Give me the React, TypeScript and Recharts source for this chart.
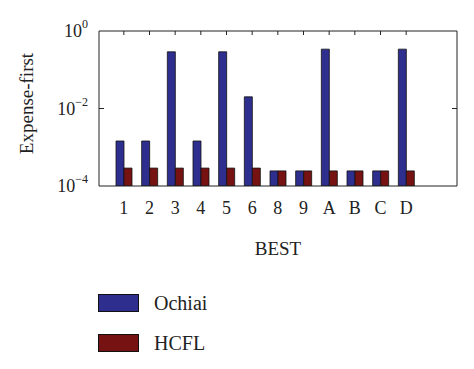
import React from "react";
import { BarChart, Bar, XAxis, YAxis, Label } from "recharts";

const categories = ["1", "2", "3", "4", "5", "6", "8", "9", "A", "B", "C", "D"];
const ochiai = [
  1.45e-3, 1.45e-3, 0.29, 1.45e-3, 0.29, 0.02, 2.45e-4, 2.45e-4, 0.34, 2.45e-4,
  2.45e-4, 0.34,
];
const hcfl = [
  2.9e-4, 2.9e-4, 2.9e-4, 2.9e-4, 2.9e-4, 2.9e-4, 2.45e-4, 2.45e-4, 2.45e-4,
  2.45e-4, 2.45e-4, 2.45e-4,
];
const yTicks = [1e-4, 1e-2, 1];

const series = [
  { key: "ochiai", name: "Ochiai", color: "#2e2e8e" },
  { key: "hcfl", name: "HCFL", color: "#761212" },
];

const data = categories.map((c, i) => ({
  cat: c,
  ochiai: ochiai[i],
  hcfl: hcfl[i],
}));

const FONT = "'Liberation Serif', 'Times New Roman', serif";
const INK = "#222";
const pad = { left: 12, right: 38 };

const LeftTick = ({ x, y, payload }: any) => {
  const exp = Math.round(Math.log10(payload.value));
  const inner = payload.value > 1e-4 && payload.value < 1;
  return (
    <g>
      {inner && <line x1={x} x2={x + 5} y1={y} y2={y} stroke={INK} />}
      <text
        x={x - 11}
        y={y + 6}
        textAnchor="end"
        fontFamily={FONT}
        fontSize={18}
        fill={INK}
      >
        10
        <tspan dy={-9} fontSize={12}>
          {exp === 0 ? "0" : "\u2212" + Math.abs(exp)}
        </tspan>
      </text>
    </g>
  );
};

const RightTick = ({ x, y, payload }: any) => {
  const inner = payload.value > 1e-4 && payload.value < 1;
  if (!inner) return <g />;
  return <line x1={x - 5} x2={x} y1={y} y2={y} stroke={INK} />;
};

const TopTick = ({ x, y }: any) => (
  <line x1={x} x2={x} y1={y} y2={y + 4} stroke={INK} />
);

const BottomTick = ({ x, y, payload }: any) => (
  <text
    x={x}
    y={y + 28}
    textAnchor="middle"
    fontFamily={FONT}
    fontSize={18}
    fill={INK}
  >
    {payload.value}
  </text>
);

const App = () => {
  return (
    <div
      style={{
        position: "absolute",
        left: 0,
        top: 0,
        width: 474,
        height: 369,
        background: "#fff",
      }}
    >
      <BarChart
        width={474}
        height={260}
        data={data}
        margin={{ top: 0, right: 0, bottom: 0, left: 0 }}
        barSize={8}
        barGap={0}
      >
        <XAxis
          dataKey="cat"
          height={74}
          padding={pad}
          axisLine={{ stroke: INK }}
          tickLine={false}
          tickSize={0}
          tickMargin={0}
          tick={<BottomTick />}
          interval={0}
        >
          <Label
            content={({ viewBox }: any) => (
              <text
                x={viewBox.x + viewBox.width / 2}
                y={viewBox.y + 69}
                textAnchor="middle"
                fontFamily={FONT}
                fontSize={19}
                fill={INK}
              >
                BEST
              </text>
            )}
          />
        </XAxis>
        <XAxis
          xAxisId="top"
          dataKey="cat"
          orientation="top"
          height={31}
          padding={pad}
          axisLine={{ stroke: INK }}
          tickLine={false}
          tickSize={0}
          tickMargin={0}
          tick={<TopTick />}
          interval={0}
        />
        <YAxis
          scale="log"
          domain={[1e-4, 1]}
          ticks={yTicks}
          allowDataOverflow
          width={99}
          axisLine={{ stroke: INK }}
          tickLine={false}
          tickSize={0}
          tickMargin={0}
          tick={<LeftTick />}
          interval={0}
        >
          <Label
            content={({ viewBox }: any) => (
              <text
                x={viewBox.x + 26}
                y={viewBox.y + viewBox.height / 2 - 5}
                transform={`rotate(-90, ${viewBox.x + 26}, ${
                  viewBox.y + viewBox.height / 2 - 5
                })`}
                textAnchor="middle"
                dominantBaseline="central"
                fontFamily={FONT}
                fontSize={19}
                fill={INK}
              >
                Expense-first
              </text>
            )}
          />
        </YAxis>
        <YAxis
          yAxisId="right"
          orientation="right"
          scale="log"
          domain={[1e-4, 1]}
          ticks={yTicks}
          allowDataOverflow
          width={17}
          axisLine={{ stroke: INK }}
          tickLine={false}
          tickSize={0}
          tickMargin={0}
          tick={<RightTick />}
          interval={0}
        />
        {series.map((s) => (
          <Bar
            key={s.key}
            dataKey={s.key}
            name={s.name}
            fill={s.color}
            stroke="#111"
            strokeWidth={0.8}
            isAnimationActive={false}
          />
        ))}
      </BarChart>
      {series.map((s, i) => (
        <div
          key={s.key}
          style={{
            position: "absolute",
            left: 98,
            top: 294 + i * 40,
            display: "flex",
            alignItems: "center",
            fontFamily: FONT,
            fontSize: 20,
            color: INK,
            height: 18,
          }}
        >
          <span
            style={{
              display: "inline-block",
              width: 39,
              height: 16,
              background: s.color,
              border: "1px solid #111",
              marginRight: 15,
            }}
          />
          {s.name}
        </div>
      ))}
    </div>
  );
};

export default App;
